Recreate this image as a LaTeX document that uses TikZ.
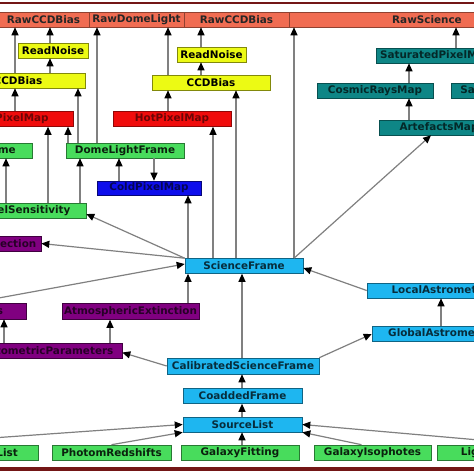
\documentclass[tikz,border=0pt]{standalone}
\usepackage{fontspec}
\setmainfont{DejaVu Sans}
\usetikzlibrary{arrows.meta}

\definecolor{barra}{RGB}{240,108,82}
\definecolor{granate}{RGB}{115,22,22}
\definecolor{amarillo}{RGB}{236,250,20}
\definecolor{rojo}{RGB}{240,12,12}
\definecolor{verde}{RGB}{72,220,92}
\definecolor{azul}{RGB}{14,14,236}
\definecolor{turquesa}{RGB}{14,134,134}
\definecolor{celeste}{RGB}{30,182,240}
\definecolor{morado}{RGB}{128,0,128}
\definecolor{flecha}{RGB}{128,128,128}

\tikzset{
  caja/.style={minimum height=15pt, minimum width=118pt, inner sep=0pt,
    font=\fontsize{10.4}{12}\selectfont\bfseries, line width=0.6pt},
  cbarra/.style={caja, fill=barra, draw=barra!60!black, text=black!85},
  camarilla/.style={caja, fill=amarillo, draw=amarillo!55!black, text=black},
  croja/.style={caja, fill=rojo, draw=rojo!60!black, text=rojo!45!black},
  cverde/.style={caja, fill=verde, draw=verde!55!black, text=verde!15!black},
  cazul/.style={caja, fill=azul, draw=azul!50!black, text=azul!35!black},
  cturquesa/.style={caja, fill=turquesa, draw=turquesa!60!black, text=turquesa!30!black},
  cceleste/.style={caja, fill=celeste, draw=celeste!55!black, text=celeste!25!black},
  cmorado/.style={caja, fill=morado, draw=morado!50!black, text=morado!30!black},
  arr/.style={draw=flecha, line width=1.2pt, -{Triangle[length=8pt,width=7pt,color=black]}},
}

\begin{document}
\begin{tikzpicture}[x=1pt, y=-1pt]
    % Fija el marco y recorta lo que sobresale.
    \useasboundingbox (0,0) rectangle (474,474);
    \clip (0,0) rectangle (474,474);
    \fill[white] (0,0) rectangle (474,474);

    % Dibuja las lineas granates de arriba y de abajo.
    \draw[granate, line width=2.5pt] (0,3) -- (474,3);
    \draw[granate, line width=3.5pt] (0,469) -- (474,469);

    % Fila superior con los datos crudos.
    \node[cbarra, minimum width=91pt] (rawB1) at (43.5,19.5) {RawCCDBias};
    \node[cbarra, minimum width=95pt] (rawD) at (136.5,19.5) {RawDomeLight};
    \node[cbarra, minimum width=105pt] (rawB2) at (236.5,19.5) {RawCCDBias};
    \node[cbarra, minimum width=276pt] (rawS) at (427,19.5) {RawScience};

    % Cajas amarillas y rojas de calibracion.
    \node[camarilla, minimum width=70pt] (rnA) at (53,50.5) {ReadNoise};
    \node[camarilla, minimum width=69pt] (rnB) at (211.5,54.5) {ReadNoise};
    \node[camarilla, minimum width=134pt] (ccdA) at (18,80.5) {CCDBias};
    \node[camarilla] (ccdB) at (211,82.5) {CCDBias};
    \node[croja, minimum width=123pt] (hpA) at (11.5,119) {HotPixelMap};
    \node[croja] (hpB) at (172,119) {HotPixelMap};

    % Cajas verdes y azul.
    \node[cverde, minimum width=115pt] (frA) at (-25.5,150.5) {TwilightFrame};
    \node[cverde] (dlf) at (125,150.5) {DomeLightFrame};
    \node[cverde, minimum width=122pt] (ps) at (25,211) {PixelSensitivity};
    \node[cazul, minimum width=104pt, minimum height=14pt] (cpm) at (149,188) {ColdPixelMap};

    % Mapas de defectos (turquesa).
    \node[cturquesa, minimum width=120pt] (satp) at (436,55.5) {SaturatedPixelMap};
    \node[cturquesa, minimum width=116pt] (crm) at (375,90.5) {CosmicRaysMap};
    \node[cturquesa, minimum width=93pt] (satm) at (497.5,90.5) {SatelliteMap};
    \node[cturquesa, minimum width=120pt] (art) at (439,127.5) {ArtefactsMap};

    % Cadena de ciencia (celeste).
    \node[cceleste] (sf) at (244,266) {ScienceFrame};
    \node[cceleste, minimum width=146pt] (loc) at (440,290.5) {LocalAstrometry};
    \node[cceleste, minimum width=136pt] (glob) at (440,334) {GlobalAstrometry};
    \node[cceleste, minimum width=152pt, minimum height=16pt] (cal) at (243,366) {CalibratedScienceFrame};
    \node[cceleste, minimum width=119pt] (col) at (242.5,396) {CoaddedFrame};
    \node[cceleste, minimum width=119pt] (src) at (242.5,424.5) {SourceList};

    % Fotometria (morado).
    \node[cmorado, minimum width=141pt] (ill) at (-29.5,243.5) {IlluminationCorrection};
    \node[cmorado, minimum width=106pt, minimum height=16pt] (std) at (-27,311) {Standards};
    \node[cmorado, minimum width=137pt, minimum height=16pt] (ae) at (130.5,311.5) {AtmosphericExtinction};
    \node[cmorado, minimum width=157pt] (pp) at (43.5,350.5) {PhotometricParameters};

    % Fila inferior de productos.
    \node[cverde] (al) at (-21,452.5) {AssociateList};
    \node[cverde, minimum width=119pt] (pr) at (111.5,452.5) {PhotomRedshifts};
    \node[cverde] (gf) at (240,452.5) {GalaxyFitting};
    \node[cverde, minimum width=117pt] (gi) at (372.5,452.5) {GalaxyIsophotes};
    \node[cverde] (lc) at (496,452.5) {LightCurves};
    \coordinate (fueraI) at (-107,445);
    \coordinate (fueraD) at (536,445);

    % Flechas de la parte izquierda.
    \draw[arr] (ccdA.north -| 15,0) -- (rawB1.south -| 15,0);
    \draw[arr] (rnA.north -| 50,0) -- (rawB1.south -| 50,0);
    \draw[arr] (ccdA.north -| 50,0) -- (rnA.south -| 50,0);
    \draw[arr] (hpA.north -| 15,0) -- (ccdA.south -| 15,0);
    \draw[arr] (dlf.north -| 78,0) -- (ccdA.south -| 78,0);
    \draw[arr] (dlf.north -| 97,0) -- (rawD.south -| 97,0);
    \draw[arr] (dlf.north -| 68,0) -- (hpA.south -| 68,0);
    \draw[arr] (ps.north -| 6,0) -- (frA.south -| 6,0);
    \draw[arr] (ps.north -| 48,0) -- (hpA.south -| 48,0);
    \draw[arr] (ps.north -| 80,0) -- (dlf.south -| 80,0);
    \draw[arr] (dlf.south -| 154,0) -- (cpm.north -| 154,0);
    \draw[arr] (cpm.north -| 119,0) -- (dlf.south -| 119,0);

    % Flechas del centro.
    \draw[arr] (hpB.north -| 168,0) -- (ccdB.south -| 168,0);
    \draw[arr] (ccdB.north -| 168,0) -- (rawD.south -| 168,0);
    \draw[arr] (ccdB.north -| 201,0) -- (rnB.south -| 201,0);
    \draw[arr] (rnB.north -| 201,0) -- (rawB2.south -| 201,0);
    \draw[arr] (sf.north -| 236,0) -- (ccdB.south -| 236,0);
    \draw[arr] (sf.north -| 213,0) -- (hpB.south -| 213,0);
    \draw[arr] (sf.north -| 188,0) -- (cpm.south -| 188,0);
    \draw[arr] (sf.north -| 294,0) -- (rawS.south -| 294,0);
    \draw[arr] (sf.north -| 294,0) -- (art.south -| 431,0);
    \draw[arr] (sf.north west) -- ([yshift=-3pt]ps.east);
    \draw[arr] (sf.north west) -- (ill.east);
    \draw[arr] (std.north) -- ([yshift=2pt]sf.west);

    % Flechas de la parte derecha.
    \draw[arr] (art.north -| 409,0) -- (crm.south -| 409,0);
    \draw[arr] (crm.north -| 409,0) -- (satp.south -| 409,0);
    \draw[arr] (satp.north -| 456,0) -- (rawS.south -| 456,0);
    \draw[arr] (glob.north -| 441,0) -- (loc.south -| 441,0);
    \draw[arr] (loc.west) -- ([yshift=-2pt]sf.east);
    \draw[arr] (cal.north east) -- (glob.west);

    % Flechas de fotometria.
    \draw[arr] (ae.north -| 188,0) -- (sf.south -| 188,0);
    \draw[arr] (pp.north -| 110,0) -- (ae.south -| 110,0);
    \draw[arr] (pp.north -| 4,0) -- (std.south -| 4,0);
    \draw[arr] (cal.west) -- ([yshift=-2pt]pp.east);

    % Flechas de la parte inferior.
    \draw[arr] (cal.north -| 242,0) -- (sf.south -| 242,0);
    \draw[arr] (col.north -| 242,0) -- (cal.south -| 242,0);
    \draw[arr] (src.north -| 242,0) -- (col.south -| 242,0);
    \draw[arr] (gf.north -| 242,0) -- (src.south -| 242,0);
    \draw[arr] (pr.north) -- (src.south west);
    \draw[arr] (fueraI) -- (src.west);
    \draw[arr] ([xshift=-11pt]gi.north) -- (src.south east);
    \draw[arr] (fueraD) -- (src.east);
\end{tikzpicture}
\end{document}
